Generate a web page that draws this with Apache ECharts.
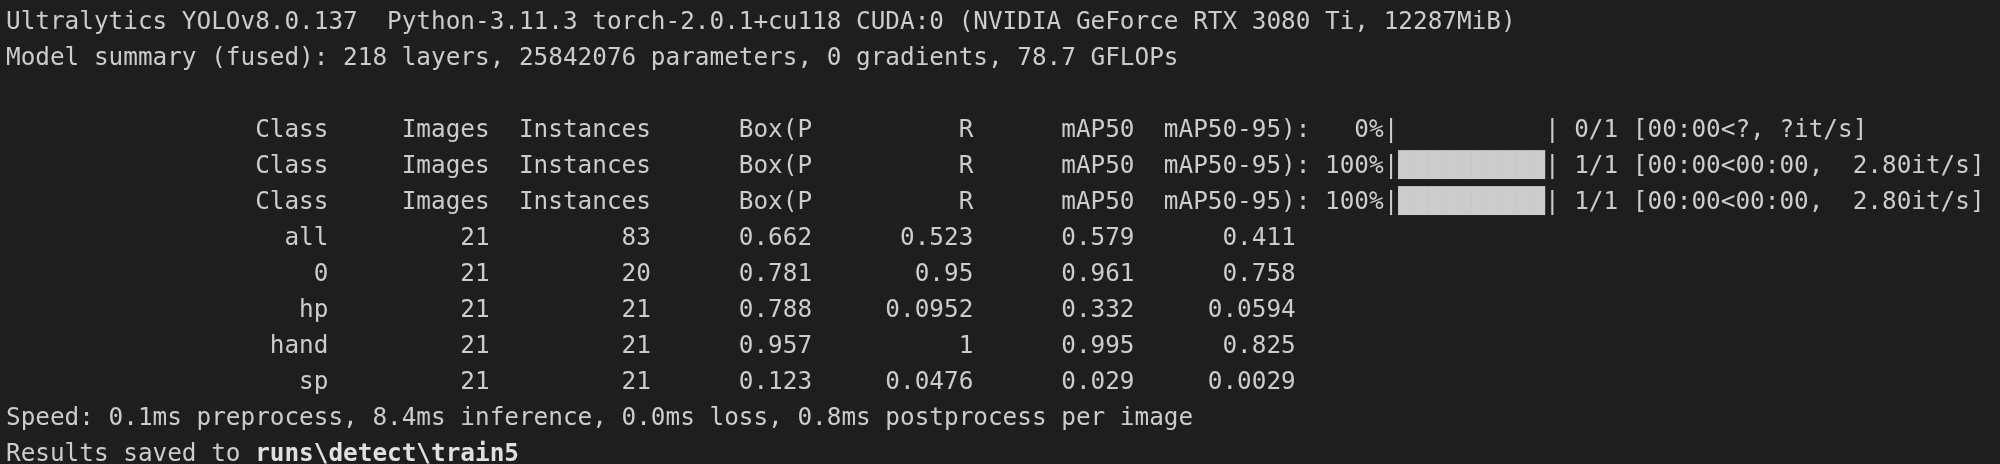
<!DOCTYPE html>
<html><head><meta charset="utf-8">
<script src="https://cdn.jsdelivr.net/npm/echarts@6/dist/echarts.min.js"></script>
<style>html,body{margin:0;padding:0;background:#1e1e1e}#c{width:2000px;height:464px}</style>
</head><body><div id="c"></div>
<script>
const headerLines = [
  "Ultralytics YOLOv8.0.137  Python-3.11.3 torch-2.0.1+cu118 CUDA:0 (NVIDIA GeForce RTX 3080 Ti, 12287MiB)",
  "Model summary (fused): 218 layers, 25842076 parameters, 0 gradients, 78.7 GFLOPs",
  ""
];
const columns = ["Class","Images","Instances","Box(P","R","mAP50","mAP50-95)"];
const progress = [
  "   0%|          | 0/1 [00:00<?, ?it/s]",
  " 100%|██████████| 1/1 [00:00<00:00,  2.80it/s]",
  " 100%|██████████| 1/1 [00:00<00:00,  2.80it/s]"
];
const classes   = ["all","0","hp","hand","sp"];
const images    = [21,21,21,21,21];
const instances = [83,20,21,21,21];
const boxP      = ["0.662","0.781","0.788","0.957","0.123"];
const recall    = ["0.523","0.95","0.0952","1","0.0476"];
const map50     = ["0.579","0.961","0.332","0.995","0.029"];
const map5095   = ["0.411","0.758","0.0594","0.825","0.0029"];
const footer1 = "Speed: 0.1ms preprocess, 8.4ms inference, 0.0ms loss, 0.8ms postprocess per image";
const footer2a = "Results saved to ", footer2b = "runs\\detect\\train5";

const p = (s,n)=>String(s).padStart(n);
const lines = headerLines.map(t=>({t}));
const hdr = p(columns[0],22)+columns.slice(1).map(c=>p(c,11)).join("")+":";
progress.forEach(pr=>lines.push({t:hdr+pr}));
classes.forEach((c,i)=>lines.push({t:p(c,22)+p(images[i],11)+p(instances[i],11)+p(boxP[i],11)+p(recall[i],11)+p(map50[i],11)+p(map5095[i],11)}));
lines.push({t:footer1});
lines.push({rich:true});

const font = '24.35px "DejaVu Sans Mono", monospace';
const graphic = lines.map((l,i)=>({
  type:'text', left:6, top:11+i*36,
  style: l.rich ? {
    text:'{a|'+footer2a+'}{b|'+footer2b+'}',
    rich:{a:{font:font,fill:'#cccccc'},b:{font:'bold '+font,fill:'#e0e0e0'}}
  } : {text:l.t, font:font, fill:'#cccccc'}
}));
const chart = echarts.init(document.getElementById('c'));
chart.setOption({backgroundColor:'#1e1e1e', animation:false, graphic});
</script></body></html>
